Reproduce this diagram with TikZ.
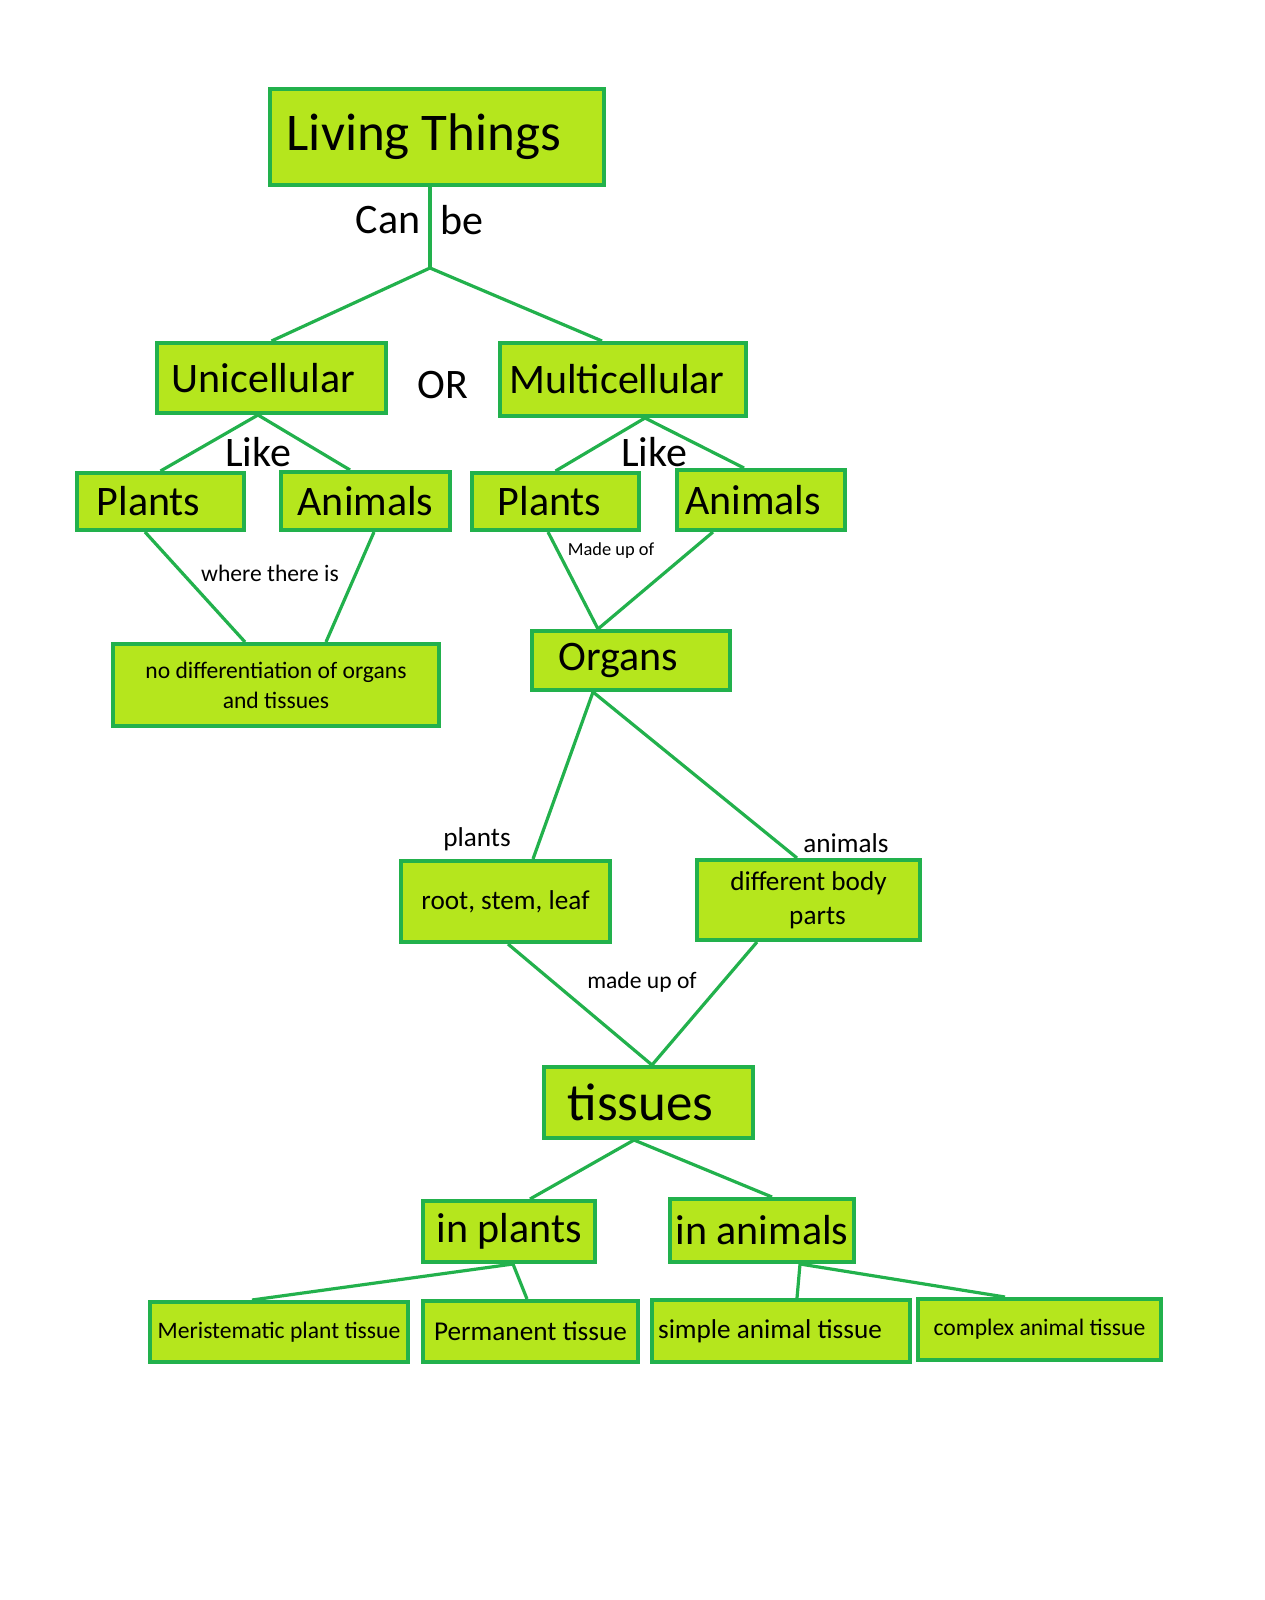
\documentclass[tikz,border=0pt]{standalone}
\usepackage{fontspec}
\setmainfont{Carlito}
\usetikzlibrary{calc}
\definecolor{boxfill}{HTML}{B5E61D}
\definecolor{boxline}{HTML}{22B14C}
\tikzset{
  box/.style={draw=boxline, fill=boxfill, line width=2pt, inner sep=0pt, align=center},
  link/.style={draw=boxline, line width=1.6pt},
  bigtext/.style={font=\fontsize{26.5}{32}\selectfont},
  maintext/.style={font=\fontsize{21}{25}\selectfont},
  midtext/.style={font=\fontsize{13.6}{17}\selectfont},
  smalltext/.style={font=\fontsize{11.8}{15}\selectfont},
  tinytext/.style={font=\fontsize{9.2}{11}\selectfont}
}
\begin{document}
\begin{tikzpicture}[x=0.5pt,y=-0.5pt]
\useasboundingbox (0,0) rectangle (1264,1600);
% boxes
\node[box, bigtext, minimum width=167pt, minimum height=48pt] (Living) at (437,137) {Living Things\hspace{13pt}};
\node[box, maintext, minimum width=114.5pt, minimum height=35pt] (Uni) at (271.5,378) {Unicellular\hspace{8pt}};
\node[box, maintext, minimum width=123pt, minimum height=36.5pt] (Multi) at (623,379.5) {Multicellular\hspace{6pt}};
\node[box, maintext, minimum width=83.5pt, minimum height=28.5pt] (PlantsU) at (160.5,501.5) {Plants\hspace{12pt}};
\node[box, maintext, minimum width=84.5pt, minimum height=29pt] (AnimalsU) at (365.5,501) {Animals};
\node[box, maintext, minimum width=83.5pt, minimum height=28.5pt] (PlantsM) at (555.5,501.5) {Plants\hspace{6pt}};
\node[box, maintext, minimum width=84pt, minimum height=30pt] (AnimalsM) at (761,500) {Animals\hspace{8pt}};
\node[box, smalltext, minimum width=163pt, minimum height=41pt] (NoDiff) at (276,685) {no differentiation of organs\\and tissues};
\node[box, maintext, minimum width=99pt, minimum height=29.5pt] (Organs) at (631,660.5) {Organs\hspace{13pt}};
\node[box, midtext, minimum width=104.5pt, minimum height=40.5pt] (Root) at (505.5,901.5) {root, stem, leaf};
\node[box, midtext, minimum width=111.5pt, minimum height=40pt] (Body) at (808.5,900) {different body\\\hspace{9pt}parts};
\node[box, bigtext, minimum width=104.5pt, minimum height=35.5pt] (Tissues) at (648.5,1102.5) {tissues\hspace{8pt}};
\node[box, maintext, minimum width=86pt, minimum height=30.5pt] (InPlants) at (509,1231.5) {in plants};
\node[box, maintext, minimum width=92pt, minimum height=31.5pt] (InAnimals) at (762,1230.5) {in animals};
\node[box, smalltext, minimum width=129pt, minimum height=30pt] (Meri) at (279,1332) {Meristematic plant tissue};
\node[box, midtext, minimum width=107.5pt, minimum height=30.5pt] (Perm) at (530.5,1331.5) {Permanent tissue};
\node[box, midtext, minimum width=129pt, minimum height=31pt] (Simple) at (781,1331) {simple animal tissue\hspace{11pt}};
\node[box, smalltext, minimum width=121.5pt, minimum height=30.5pt] (Complex) at (1039.5,1329.5) {complex animal tissue};
% labels
\node[maintext] (Can) at (388,220) {Can};
\node[maintext] (Be) at (462,220) {be};
\node[maintext] (Or) at (443,385) {OR};
\node[maintext] (LikeU) at (258,452) {Like};
\node[maintext] (LikeM) at (654,452) {Like};
\node[smalltext] (Where) at (270,573) {where there is};
\node[tinytext] (MadeUp) at (611,551) {Made up of};
\node[midtext] (LblPlants) at (477,839) {plants};
\node[midtext] (LblAnimals) at (846,843) {animals};
\node[smalltext] (MadeOf) at (642,982) {made up of};
% links
\coordinate (Fork) at (430,268);
\draw[link] (Fork |- Living.south) -- (Fork);
\draw[link] (Fork) -- (Uni.north);
\draw[link] (Fork) -- ($(Multi.north)+(-21,0)$);
\draw[link] ($(Uni.south)+(-13.5,0)$) -- (PlantsU.north);
\draw[link] ($(Uni.south)+(-13.5,0)$) -- ($(AnimalsU.north)+(-15.5,0)$);
\draw[link] ($(Multi.south)+(22,0)$) -- (PlantsM.north);
\draw[link] ($(Multi.south)+(22,0)$) -- ($(AnimalsM.north)+(-17,0)$);
\draw[link] ($(PlantsU.south)+(-15.5,0)$) -- ($(NoDiff.north)+(-31,0)$);
\draw[link] ($(AnimalsU.south)+(8.5,0)$) -- ($(NoDiff.north)+(50,0)$);
\draw[link] ($(PlantsM.south)+(-7.5,0)$) -- ($(Organs.north)+(-33,0)$);
\draw[link] ($(AnimalsM.south)+(-48,0)$) -- ($(Organs.north)+(-33,0)$);
\draw[link] ($(Organs.south)+(-38,0)$) -- ($(Root.north)+(27.5,0)$);
\draw[link] ($(Organs.south)+(-38,0)$) -- ($(Body.north)+(-11.5,0)$);
\draw[link] ($(Root.south)+(2.5,0)$) -- ($(Tissues.north)+(3.5,0)$);
\draw[link] ($(Body.south)+(-51.5,0)$) -- ($(Tissues.north)+(3.5,0)$);
\draw[link] ($(Tissues.south)+(-14.5,0)$) -- ($(InPlants.north)+(21,0)$);
\draw[link] ($(Tissues.south)+(-14.5,0)$) -- ($(InAnimals.north)+(10,0)$);
\draw[link] ($(InPlants.south)+(4,0)$) -- ($(Meri.north)+(-27,0)$);
\draw[link] ($(InPlants.south)+(4,0)$) -- ($(Perm.north)+(-3.5,0)$);
\draw[link] ($(InAnimals.south)+(38,0)$) -- ($(Simple.north)+(16,0)$);
\draw[link] ($(InAnimals.south)+(38,0)$) -- ($(Complex.north)+(-34.5,0)$);
\end{tikzpicture}
\end{document}
